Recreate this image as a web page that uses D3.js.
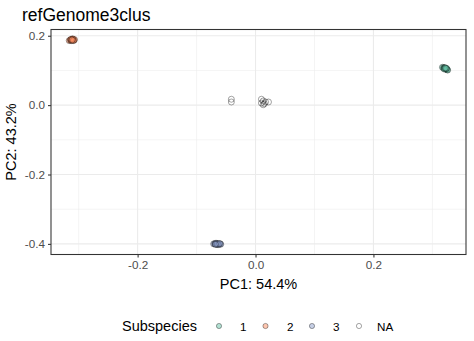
<!DOCTYPE html>
<html><head><meta charset="utf-8">
<script src="https://cdn.jsdelivr.net/npm/d3@7"></script>
<style>body{margin:0;background:#fff}svg{display:block;font-family:"Liberation Sans",Arial,sans-serif}</style>
</head><body><svg id="c" width="474" height="341"></svg>
<script>
const title = "refGenome3clus";
const xLabel = "PC1: 54.4%";
const yLabel = "PC2: 43.2%";
const legendTitle = "Subspecies";
const groups = ["1", "2", "3", "NA"];
const groupColors = ["#66C2A5", "#FC8D62", "#8DA0CB", null];
const xTicks = [-0.2, 0.0, 0.2];
const yTicks = [0.2, 0.0, -0.2, -0.4];
const xMinor = [-0.3, -0.1, 0.1, 0.3];
const yMinor = [0.1, -0.1, -0.3];
// PC1 / PC2 values per group
const pc1_g1 = [0.317, 0.319, 0.320, 0.321, 0.322, 0.323, 0.324, 0.325, 0.326, 0.321, 0.323, 0.320, 0.324, 0.322];
const pc2_g1 = [0.109, 0.108, 0.107, 0.106, 0.105, 0.104, 0.103, 0.102, 0.101, 0.108, 0.105, 0.104, 0.106, 0.107];
const pc1_g2 = [-0.316, -0.314, -0.313, -0.312, -0.311, -0.310, -0.309, -0.308, -0.307, -0.312, -0.310, -0.313, -0.309, -0.311];
const pc2_g2 = [0.186, 0.187, 0.188, 0.189, 0.190, 0.189, 0.188, 0.187, 0.189, 0.186, 0.191, 0.190, 0.186, 0.188];
const pc1_g3 = [-0.071, -0.069, -0.068, -0.066, -0.065, -0.064, -0.062, -0.060, -0.059, -0.067, -0.063, -0.065, -0.061, -0.068];
const pc2_g3 = [-0.400, -0.399, -0.401, -0.400, -0.402, -0.399, -0.401, -0.400, -0.401, -0.398, -0.402, -0.400, -0.399, -0.401];
const pc1_na = [-0.041, -0.041, 0.010, 0.010, 0.013, 0.017, 0.022, 0.013, 0.015];
const pc2_na = [0.017, 0.009, 0.017, 0.006, 0.001, 0.009, 0.009, 0.012, 0.004];

const pts = [];
[[pc1_g1, pc2_g1, 0], [pc1_g2, pc2_g2, 1], [pc1_g3, pc2_g3, 2], [pc1_na, pc2_na, 3]].forEach(([xs, ys, g]) => {
  xs.forEach((v, i) => pts.push({x: v, y: ys[i], g}));
});

const svg = d3.select("#c");
const L = 51, R = 466, T = 29.5, B = 254.5;
const x = d3.scaleLinear().domain([-0.3469, 0.357]).range([L, R]);
const y = d3.scaleLinear().domain([-0.4306, 0.218]).range([B, T]);

svg.append("text").attr("x", 22).attr("y", 21).attr("font-size", 17.5).attr("fill", "#000").text(title);

const grid = svg.append("g");
xMinor.forEach(v => grid.append("line").attr("x1", x(v)).attr("x2", x(v)).attr("y1", T).attr("y2", B).attr("stroke", "#EBEBEB").attr("stroke-width", 0.55));
yMinor.forEach(v => grid.append("line").attr("y1", y(v)).attr("y2", y(v)).attr("x1", L).attr("x2", R).attr("stroke", "#EBEBEB").attr("stroke-width", 0.55));
xTicks.forEach(v => grid.append("line").attr("x1", x(v)).attr("x2", x(v)).attr("y1", T).attr("y2", B).attr("stroke", "#EBEBEB").attr("stroke-width", 1.07));
yTicks.forEach(v => grid.append("line").attr("y1", y(v)).attr("y2", y(v)).attr("x1", L).attr("x2", R).attr("stroke", "#EBEBEB").attr("stroke-width", 1.07));

const color = g => groupColors[g];
svg.append("g").selectAll("circle").data(pts).join("circle")
  .attr("cx", d => x(d.x)).attr("cy", d => y(d.y)).attr("r", 3)
  .attr("fill", d => color(d.g) || "none").attr("fill-opacity", 0.5)
  .attr("stroke", "#000").attr("stroke-opacity", 0.5).attr("stroke-width", 0.7);

svg.append("rect").attr("x", L).attr("y", T).attr("width", R - L).attr("height", B - T)
  .attr("fill", "none").attr("stroke", "#333").attr("stroke-width", 1.07);

const xAxis = d3.axisBottom(x).tickValues(xTicks).tickFormat(d3.format(".1f")).tickSize(3).tickPadding(3);
const gx = svg.append("g").attr("transform", `translate(0,${B})`).call(xAxis);
const yAxis = d3.axisLeft(y).tickValues(yTicks).tickFormat(d3.format(".1f")).tickSize(3).tickPadding(3);
const gy = svg.append("g").attr("transform", `translate(${L},0)`).call(yAxis);
[gx, gy].forEach(g => {
  g.select(".domain").remove();
  g.selectAll(".tick line").attr("stroke", "#333").attr("stroke-width", 1.07);
  g.selectAll(".tick text").attr("fill", "#4D4D4D").attr("font-size", 11.7).attr("font-family", "Liberation Sans, Arial, sans-serif");
});
gx.selectAll(".tick text").text(d => d3.format(".1f")(d).replace("−", "-"));
gy.selectAll(".tick text").text(d => d3.format(".1f")(d).replace("−", "-"));

svg.append("text").attr("x", (L + R) / 2).attr("y", 289).attr("text-anchor", "middle").attr("font-size", 14.5).text(xLabel);
svg.append("text").attr("transform", `translate(16,${(T + B) / 2}) rotate(-90)`).attr("text-anchor", "middle").attr("font-size", 14.5).text(yLabel);

const lg = svg.append("g");
lg.append("text").attr("x", 122).attr("y", 331).attr("font-size", 14.5).text(legendTitle);
const keyX = [219, 265.5, 312, 359];
const labX = [240, 287, 333, 377];
groups.forEach((g, i) => {
  lg.append("circle").attr("cx", keyX[i]).attr("cy", 326).attr("r", 2.6)
    .attr("fill", groupColors[i] || "none").attr("fill-opacity", 0.5)
    .attr("stroke", "#000").attr("stroke-opacity", 0.5).attr("stroke-width", 0.7);
  lg.append("text").attr("x", labX[i]).attr("y", 330.5).attr("font-size", 11.7).text(g);
});
</script></body></html>
